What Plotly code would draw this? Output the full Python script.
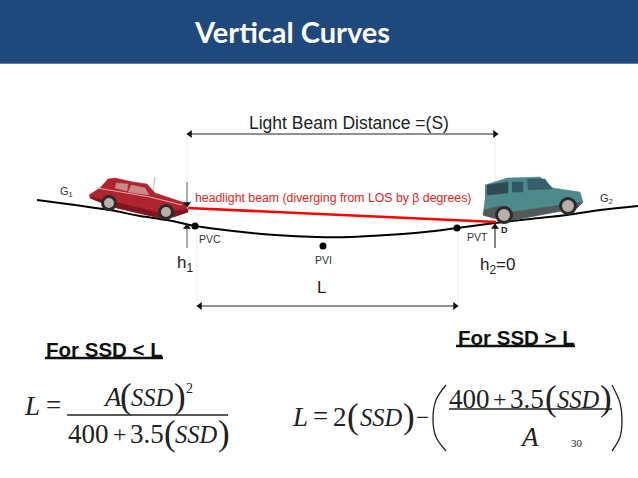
import plotly.graph_objects as go

# ---- geometry (pixel scale of the slide) ----
road_x = [37, 75, 110, 140, 167, 195, 233, 275, 317, 350, 387, 425, 457, 495, 530, 567, 600, 638]
road_y = [200, 205, 210, 216, 220, 226, 231, 235, 237, 237, 235, 232, 228, 223, 219, 215, 210, 206]
beam_x = [188, 496]
beam_y = [208, 222]
points_x = [195, 323, 457]
points_y = [226, 246, 228]

red_body_x = [89, 100, 108, 115, 133, 147, 155, 185, 188, 173, 160, 117, 100, 90]
red_body_y = [195, 188, 179, 178, 182, 184, 193, 203, 212, 217, 218, 208, 202, 198]
red_low_x = [90, 118, 160, 188, 188, 173, 160, 117, 100, 90]
red_low_y = [197, 203, 213, 209, 212, 217, 218, 208, 202, 198]
red_win1_x = [116, 128, 127, 115]
red_win1_y = [183, 184, 191, 188]
red_win2_x = [131, 145, 149, 128]
red_win2_y = [185, 188, 195, 192]
red_stripe_x = [97, 115, 150, 182]
red_stripe_y = [188, 191, 197, 205]
red_wheels_x = [109, 166]
red_wheels_y = [203, 212]

grn_body_x = [485, 507, 540, 553, 580, 583, 577, 513, 493, 483, 485]
grn_body_y = [185, 178, 177, 188, 192, 202, 208, 220, 218, 215, 200]
grn_low_x = [484, 500, 512, 560, 583, 577, 513, 493, 483]
grn_low_y = [210, 206, 212, 205, 202, 208, 220, 218, 215]
grn_win1_x = [487, 508, 508, 487]
grn_win1_y = [185, 182, 193, 195]
grn_win2_x = [512, 523, 523, 512]
grn_win2_y = [182, 182, 192, 192]
grn_win3_x = [527, 545, 552, 528]
grn_win3_y = [179, 179, 189, 190]
grn_wheels_x = [504, 568]
grn_wheels_y = [215, 206]

paren_l_x = [446, 436, 433, 436, 446]
paren_l_y = [385, 400, 420, 437, 451]
paren_r_x = [612, 620, 622, 620, 612]
paren_r_y = [385, 403, 420, 437, 451]

title_text = "Vertical Curves"
sans_labels = [
    ("Light Beam Distance =(S)", 349, 123, 17.5, "#222222"),
    ("headlight beam (diverging from LOS by β degrees)", 333, 198, 12.3, "#ee2222"),
    ("G<sub>1</sub>", 66, 192, 11, "#333333"),
    ("G<sub>2</sub>", 606, 199, 11, "#333333"),
    ("PVC", 210, 239, 10.5, "#333333"),
    ("PVI", 323, 260, 10.5, "#333333"),
    ("PVT", 477, 237, 10.5, "#333333"),
    ("<b>D</b>", 504, 230, 9, "#222222"),
    ("h<sub>1</sub>", 185, 264, 17, "#222222"),
    ("h<sub>2</sub>=0", 497, 266, 17, "#222222"),
    ("L", 321, 287, 17, "#222222"),
    ("<b>For SSD &lt; L</b>", 104, 349, 20.5, "#111111"),
    ("<b>For SSD &gt; L</b>", 516, 337, 20.5, "#111111"),
]
math_labels = [
    ("<i>L</i>", 32, 406, 27), ("=", 53, 405, 27),
    ("<i>A</i>", 112, 397, 27), ("(", 126, 396, 35), ("<i>SSD</i>", 152, 397, 24.5),
    (")", 180, 396, 35), ("2", 189, 388, 14),
    ("400", 88, 434, 27), ("+", 120, 434, 24), ("3.5", 147, 434, 27), ("(", 170, 433, 35),
    ("<i>SSD</i>", 196, 434, 24.5), (")", 224, 433, 35),
    ("<i>L</i>", 300, 417, 27), ("=", 320, 416, 27), ("2", 340, 417, 27), ("(", 353, 416, 35),
    ("<i>SSD</i>", 381, 417, 24.5), (")", 409, 416, 35), ("−", 422, 417, 23),
    ("400", 469, 399, 27), ("+", 500, 399, 24), ("3.5", 527, 399, 27), ("(", 551, 398, 35),
    ("<i>SSD</i>", 578, 399, 24.5), (")", 606, 398, 35),
    ("<i>A</i>", 529, 437, 27), ("30", 577, 443, 11),
]
arrows = [  # x0, y0, x1, y1, line colour, both ends
    (187, 134, 498, 134, "#222222", True),
    (197, 306, 458, 306, "#222222", True),
    (187, 182, 187, 207, "#777777", False),
    (187, 248, 187, 224, "#777777", False),
    (495, 248, 495, 224, "#333333", False),
]
faint_rules = [  # x, y0, y1
    (187, 134, 182),
    (495, 134, 182),
    (197, 232, 306),
    (458, 232, 306),
]
rules = [  # x0, x1, y, width, colour
    (67, 228, 415, 1.3, "#222222"),
    (449, 612, 409, 1.6, "#222222"),
    (45, 163, 358, 2.4, "#111111"),
    (456, 575, 346, 2.4, "#111111"),
]

fig = go.Figure()


def line(x, y, color, width, shape="linear"):
    fig.add_trace(go.Scatter(x=x, y=y, mode="lines", hoverinfo="skip",
                             line=dict(color=color, width=width, shape=shape)))


def poly(x, y, color):
    fig.add_trace(go.Scatter(x=x, y=y, mode="lines", fill="toself", fillcolor=color,
                             hoverinfo="skip", line=dict(color=color, width=0.5)))


def wheels(x, y, size):
    fig.add_trace(go.Scatter(x=x, y=y, mode="markers", hoverinfo="skip",
                             marker=dict(size=size, color="#b8b0a8",
                                         line=dict(color="#2b2b2b", width=3))))


def head(x, y, symbol):
    fig.add_trace(go.Scatter(x=[x], y=[y], mode="markers", hoverinfo="skip",
                             marker=dict(size=7, color="#111111", symbol=symbol, line_width=0)))


def arrow(x0, y0, x1, y1, color, both):
    line([x0, x1], [y0, y1], color, 1.2)
    if y0 == y1:
        head(x1 - 3, y1, "triangle-right")
        if both:
            head(x0 + 3, y0, "triangle-left")
    elif y1 > y0:
        head(x1, y1 - 3, "triangle-down")
    else:
        head(x1, y1 + 3, "triangle-up")


for x, y0, y1 in faint_rules:
    line([x, x], [y0, y1], "#eeeeee", 1)
line(road_x, road_y, "#000000", 2, "spline")
line(beam_x, beam_y, "#ff0000", 2.6)
fig.add_trace(go.Scatter(x=points_x, y=points_y, mode="markers", hoverinfo="skip",
                         marker=dict(size=7, color="#000000")))

line([155, 153], [177, 192], "#cccccc", 1.5)
poly(red_body_x, red_body_y, "#b02430")
poly(red_low_x, red_low_y, "#7e1620")
poly(red_win1_x, red_win1_y, "#c98a8a")
poly(red_win2_x, red_win2_y, "#c98a8a")
line(red_stripe_x, red_stripe_y, "#e8a0a0", 1.2)
wheels(red_wheels_x, red_wheels_y, 13)

poly(grn_body_x, grn_body_y, "#4e8a8c")
poly(grn_low_x, grn_low_y, "#55585a")
poly(grn_win1_x, grn_win1_y, "#2f4a52")
poly(grn_win2_x, grn_win2_y, "#2f5a62")
poly(grn_win3_x, grn_win3_y, "#35606a")
wheels(grn_wheels_x, grn_wheels_y, 15)

line(paren_l_x, paren_l_y, "#222222", 1.3, "spline")
line(paren_r_x, paren_r_y, "#222222", 1.3, "spline")
for x0, x1, y, w, c in rules:
    line([x0, x1], [y, y], c, w)
for a in arrows:
    arrow(*a)

annotations = [dict(x=291.5, y=31, text=f"<b>{title_text}</b>", showarrow=False, xanchor="center",
                    yanchor="middle", xref="x", yref="y",
                    font=dict(family="Lato", size=29, color="#ffffff"))]
for text, x, y, size, color in sans_labels:
    annotations.append(dict(x=x, y=y, text=text, showarrow=False, xanchor="center", yanchor="middle",
                            xref="x", yref="y", font=dict(family="Liberation Sans", size=size, color=color)))
for text, x, y, size in math_labels:
    annotations.append(dict(x=x, y=y, text=text, showarrow=False, xanchor="center", yanchor="middle",
                            xref="x", yref="y", font=dict(family="Liberation Serif", size=size, color="#222222")))

fig.update_layout(
    width=638, height=478, margin=dict(l=0, r=0, t=0, b=0),
    paper_bgcolor="#ffffff", plot_bgcolor="#ffffff", showlegend=False,
    xaxis=dict(range=[0, 638], visible=False, fixedrange=True),
    yaxis=dict(range=[478, 0], visible=False, fixedrange=True),
    annotations=annotations,
    shapes=[dict(type="rect", xref="x", yref="y", x0=0, x1=638, y0=0, y1=63, line_width=0,
                 fillcolor="#1f497d", layer="below"),
            dict(type="rect", xref="x", yref="y", x0=0, x1=638, y0=63, y1=64, line_width=0,
                 fillcolor="#5b84b5", layer="below")],
)
fig.write_html("out.html", config={"displayModeBar": False},
               post_script="document.body.style.margin='0';")
